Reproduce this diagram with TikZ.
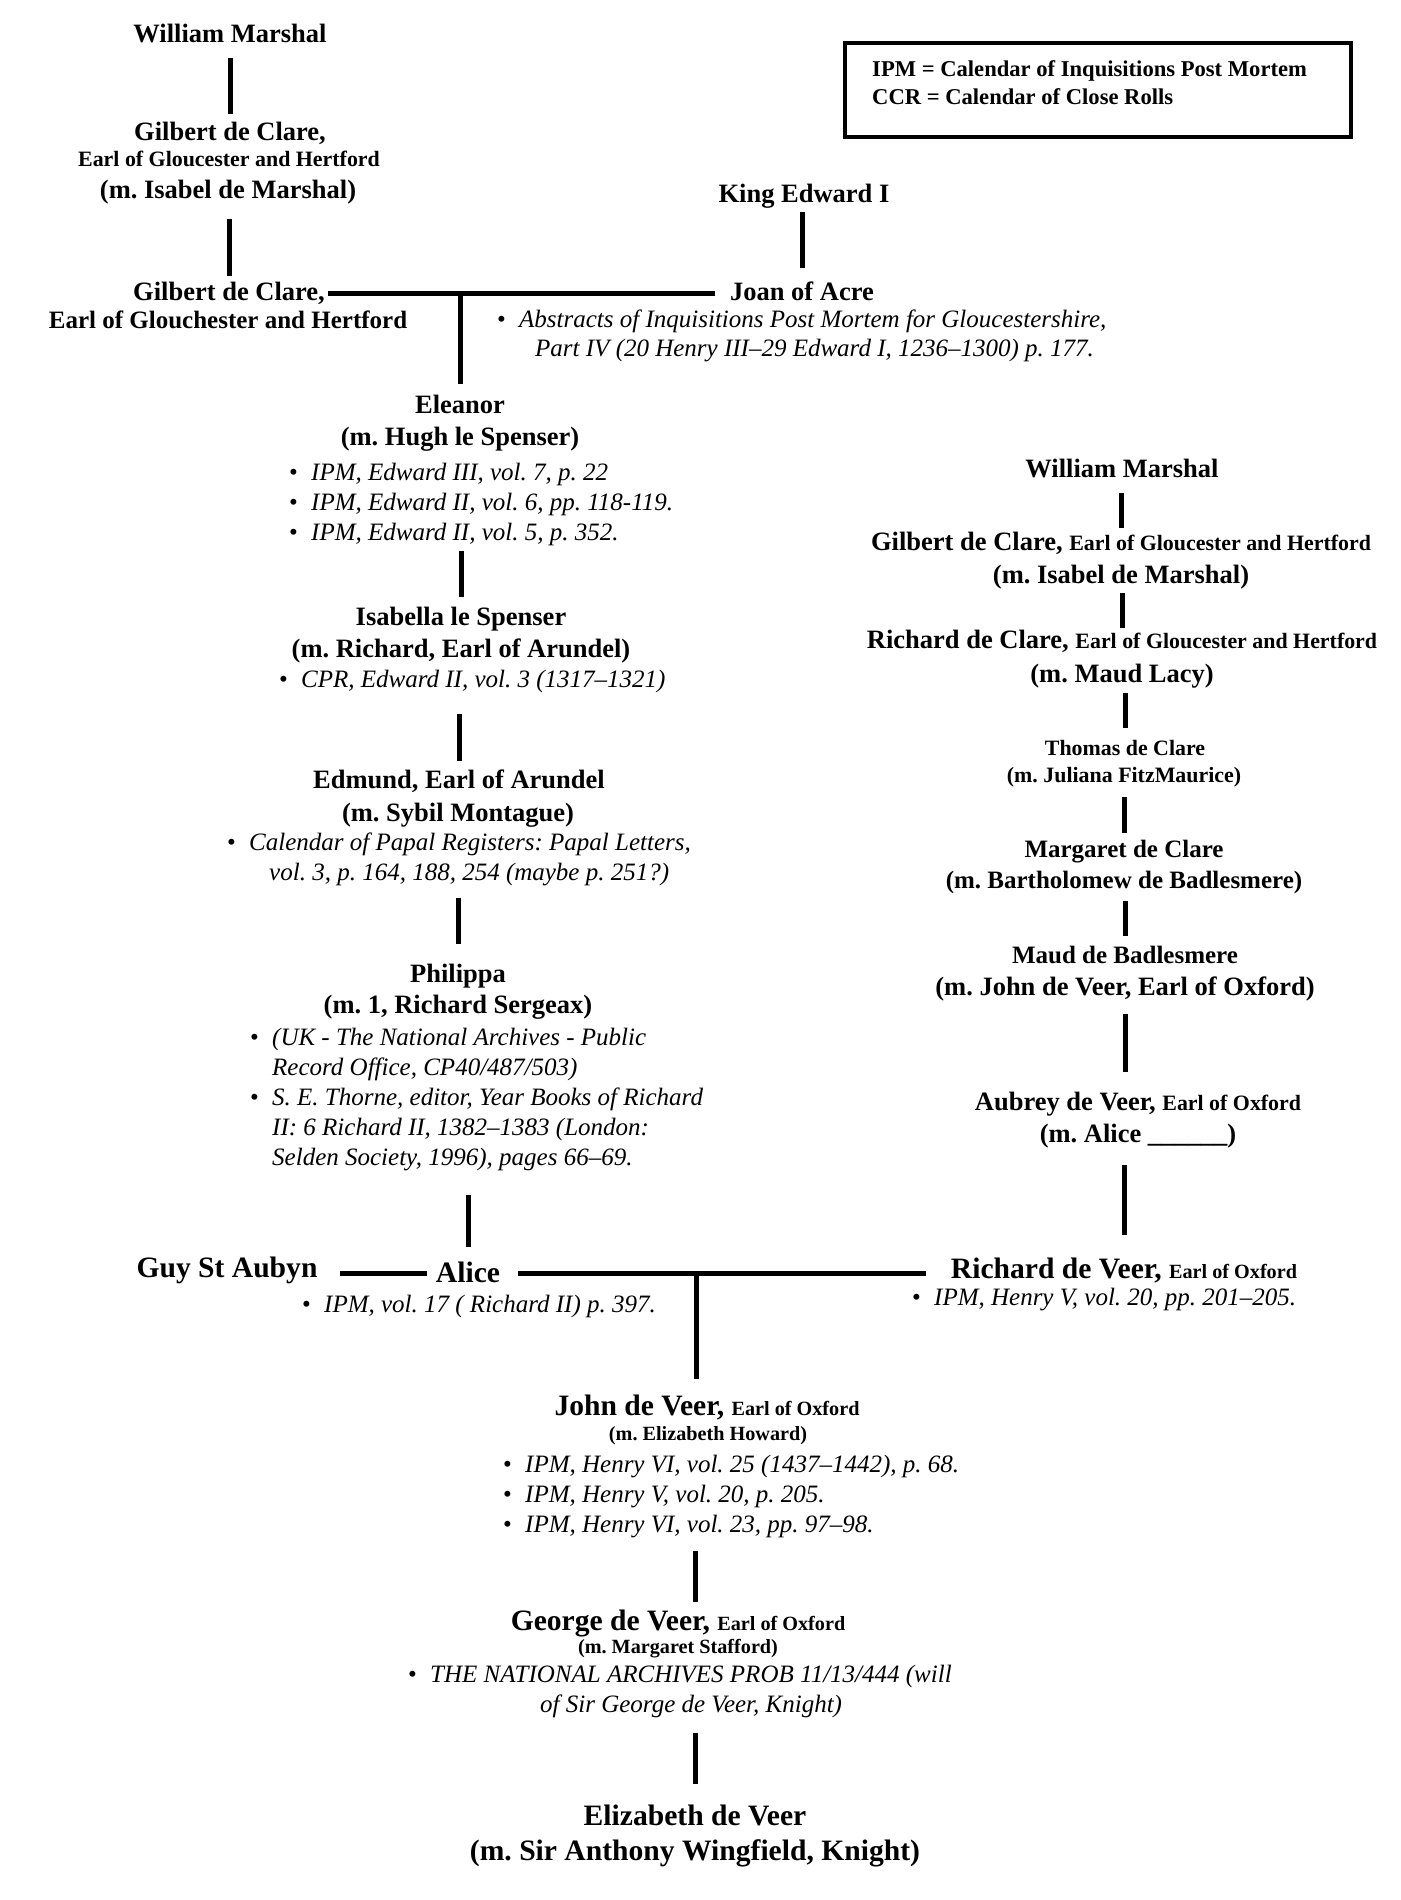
\documentclass[tikz,border=0pt]{standalone}
\usepackage{fontspec}
\setmainfont{Liberation Serif}
\usepackage{tikz}
\frenchspacing
\newcommand{\fName}{\fontsize{26.5pt}{32pt}\selectfont\bfseries}
\newcommand{\fBig}{\fontsize{29.6pt}{35pt}\selectfont\bfseries}
\newcommand{\fMid}{\fontsize{25pt}{30pt}\selectfont\bfseries}
\newcommand{\fEarl}{\fontsize{21.9pt}{26pt}\selectfont\bfseries}
\newcommand{\fOx}{\fontsize{20.2pt}{24pt}\selectfont\bfseries}
\newcommand{\fRef}{\fontsize{25pt}{30pt}\selectfont\itshape}
\newcommand{\fKey}{\fontsize{22.6pt}{28pt}\selectfont\bfseries}
\newcommand{\bul}{\makebox[22pt][l]{\upshape\textbullet}}

\begin{document}
\begin{tikzpicture}
[x=1pt,y=-1pt]
\tikzset{txt/.style={inner sep=0pt,text height=0pt,text depth=0pt,anchor=base,font=\fName},
ref/.style={txt,anchor=base west,font=\fRef},
kin/.style={line width=5pt}}
\useasboundingbox (0,0) rectangle (1400,1900);

\node [draw,line width=3.5pt,inner sep=0pt,minimum width=506pt,minimum height=94pt] (key) at (1098,90) {};
\node [txt,anchor=base west,font=\fKey] (k1) at (872,77) {IPM = Calendar of Inquisitions Post Mortem};
\node [txt,anchor=base west,font=\fKey] (k2) at (872,105) {CCR = Calendar of Close Rolls};

\node [txt] (wm) at (230,43) {William Marshal};
\node [txt] (gc) at (230,140) {Gilbert de Clare,};
\node [txt,font=\fEarl] (gce) at (229,166) {Earl of Gloucester and Hertford};
\node [txt] (gcm) at (228,198) {(m. Isabel de Marshal)};
\node [txt] (gc2) at (229,300) {Gilbert de Clare,};
\node [txt,font=\fMid] (gc2e) at (228,328) {Earl of Glouchester and Hertford};

\node [txt] (ke) at (804,202) {King Edward I};
\node [txt] (joan) at (802,300) {Joan of Acre};
\node [ref] (acr1) at (497,327) {\bul Abstracts of Inquisitions Post Mortem for Gloucestershire,};
\node [ref] (acr2) at (535,356) {Part IV (20 Henry III--29 Edward I, 1236--1300) p. 177.};

\node [txt] (el) at (460,413) {Eleanor};
\node [txt] (elm) at (460,445) {(m. Hugh le Spenser)};
\node [ref] (er1) at (289,480) {\bul IPM, Edward III, vol. 7, p. 22};
\node [ref] (er2) at (289,510) {\bul IPM, Edward II, vol. 6, pp. 118-119.};
\node [ref] (er3) at (289,540) {\bul IPM, Edward II, vol. 5, p. 352.};

\node [txt] (is) at (461,625) {Isabella le Spenser};
\node [txt] (ism) at (461,657) {(m. Richard, Earl of Arundel)};
\node [ref] (ir1) at (279,687) {\bul CPR, Edward II, vol. 3 (1317--1321)};

\node [txt] (ed) at (459,788) {Edmund, Earl of Arundel};
\node [txt] (edm) at (458,821) {(m. Sybil Montague)};
\node [ref] (dr1) at (227,850) {\bul Calendar of Papal Registers: Papal Letters,};
\node [ref] (dr2) at (269,880) {vol. 3, p. 164, 188, 254 (maybe p. 251?)};

\node [txt] (ph) at (458,982) {Philippa};
\node [txt] (phm) at (458,1013) {(m. 1, Richard Sergeax)};
\node [ref] (pr1) at (250,1045) {\bul (UK - The National Archives - Public};
\node [ref] (pr2) at (272,1075) {Record Office, CP40/487/503)};
\node [ref] (pr3) at (250,1105) {\bul S. E. Thorne, editor, Year Books of Richard};
\node [ref] (pr4) at (272,1135) {II: 6 Richard II, 1382--1383 (London:};
\node [ref] (pr5) at (272,1165) {Selden Society, 1996), pages 66--69.};

\node [txt,font=\fBig] (guy) at (227,1277) {Guy St Aubyn};
\node [txt,font=\fBig] (al) at (468,1282) {Alice};
\node [ref] (alr1) at (302,1312) {\bul IPM, vol. 17 ( Richard II) p. 397.};

\node [txt] (wm2) at (1122,477) {William Marshal};
\node [txt] (gc3) at (1121,550) {Gilbert de Clare, {\fEarl Earl of Gloucester and Hertford}};
\node [txt] (gc3m) at (1121,583) {(m. Isabel de Marshal)};
\node [txt] (rc) at (1122,648) {Richard de Clare, {\fEarl Earl of Gloucester and Hertford}};
\node [txt] (rcm) at (1122,682) {(m. Maud Lacy)};
\node [txt,font=\fEarl] (tc) at (1125,755) {Thomas de Clare};
\node [txt,font=\fEarl] (tcm) at (1124,782) {(m. Juliana FitzMaurice)};
\node [txt,font=\fMid] (mc) at (1124,857) {Margaret de Clare};
\node [txt,font=\fMid] (mcm) at (1124,888) {(m. Bartholomew de Badlesmere)};
\node [txt,font=\fMid] (mb) at (1125,963) {Maud de Badlesmere};
\node [txt] (mbm) at (1125,995) {(m. John de Veer, Earl of Oxford)};
\node [txt] (ab) at (1138,1110) {Aubrey de Veer, {\fEarl Earl of Oxford}};
\node [txt] (abm) at (1138,1142) {(m. Alice \_\_\_\_\_\_)};
\node [txt,font=\fBig] (rv) at (1124,1278) {Richard de Veer, {\fOx Earl of Oxford}};
\node [ref] (rvr1) at (912,1305) {\bul IPM, Henry V, vol. 20, pp. 201--205.};

\node [txt,font=\fBig] (jv) at (707,1415) {John de Veer, {\fOx Earl of Oxford}};
\node [txt,font=\fOx] (jvm) at (708,1440) {(m. Elizabeth Howard)};
\node [ref] (jvr1) at (503,1472) {\bul IPM, Henry VI, vol. 25 (1437--1442), p. 68.};
\node [ref] (jvr2) at (503,1502) {\bul IPM, Henry V, vol. 20, p. 205.};
\node [ref] (jvr3) at (503,1532) {\bul IPM, Henry VI, vol. 23, pp. 97--98.};
\node [txt,font=\fBig] (gv) at (678,1630) {George de Veer, {\fOx Earl of Oxford}};
\node [txt,font=\fOx] (gvm) at (678,1653) {(m. Margaret Stafford)};
\node [ref] (gvr1) at (408,1682) {\bul THE NATIONAL ARCHIVES PROB 11/13/444 (will};
\node [ref] (gvr2) at (540,1712) {of Sir George de Veer, Knight)};
\node [txt,font=\fBig] (ev) at (695,1825) {Elizabeth de Veer};
\node [txt,font=\fBig] (evm) at (695,1860) {(m. Sir Anthony Wingfield, Knight)};

\coordinate (gj) at (460,293);
\coordinate (aj) at (696,1273);

\foreach \from/\to/\a/\b in {wm/gc/14/25,gcm/gc2/20/23,ke/joan/9/31,er3/is/10/27,ir1/ed/26/26,dr2/ph/17/37,pr5/al/29/34,wm2/gc3/15/21,gc3m/rc/9/19,rcm/tc/10/26,tcm/mc/14/23,mcm/mb/12/26,abm/rv/22/42,gvr2/ev/20/40}
	\draw [kin,shorten <=\a pt,shorten >=\b pt] (\to.north |- \from.south) -- (\to.north);
\draw [kin,shorten <=18pt,shorten >=37pt] (mbm.south) -- (mbm.south |- ab.north);
\draw [kin,shorten <=18pt,shorten >=27pt] (ev.north |- jvr3.south) -- (ev.north |- gv.north);

\draw [kin,shorten <=3pt,shorten >=15pt] (gc2.east |- gj) -- (joan.west |- gj);
\draw [kin,shorten >=28pt] (gj) -- (gj |- el.north);
\draw [kin,shorten <=22pt,shorten >=9pt] (guy.east |- aj) -- (al.west |- aj);
\draw [kin,shorten <=18pt,shorten >=25pt] (al.east |- aj) -- (rv.west |- aj);
\draw [kin,shorten >=35pt] (aj) -- (aj |- jv.north);

\end{tikzpicture}
\end{document}
